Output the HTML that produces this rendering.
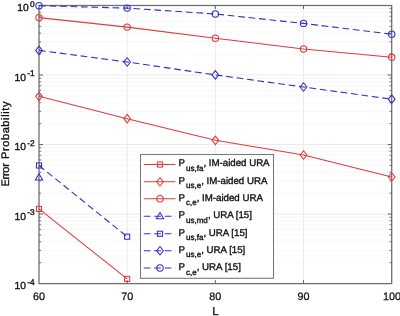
<!DOCTYPE html><html><head><meta charset="utf-8"><style>html,body{margin:0;padding:0;background:#fff}svg{display:block}</style></head><body><svg width="400" height="316" viewBox="0 0 400 316" font-family="Liberation Sans, Arial, sans-serif" text-rendering="geometricPrecision">
<rect width="400" height="316" fill="#fff"/>
<line x1="39.0" x2="391.7" y1="54.10" y2="54.10" stroke="#f5f5f5" stroke-width="0.8"/>
<line x1="39.0" x2="391.7" y1="41.85" y2="41.85" stroke="#f5f5f5" stroke-width="0.8"/>
<line x1="39.0" x2="391.7" y1="33.17" y2="33.17" stroke="#f5f5f5" stroke-width="0.8"/>
<line x1="39.0" x2="391.7" y1="26.43" y2="26.43" stroke="#f5f5f5" stroke-width="0.8"/>
<line x1="39.0" x2="391.7" y1="20.92" y2="20.92" stroke="#f5f5f5" stroke-width="0.8"/>
<line x1="39.0" x2="391.7" y1="16.27" y2="16.27" stroke="#f5f5f5" stroke-width="0.8"/>
<line x1="39.0" x2="391.7" y1="12.24" y2="12.24" stroke="#f5f5f5" stroke-width="0.8"/>
<line x1="39.0" x2="391.7" y1="8.68" y2="8.68" stroke="#f5f5f5" stroke-width="0.8"/>
<line x1="39.0" x2="391.7" y1="123.62" y2="123.62" stroke="#f5f5f5" stroke-width="0.8"/>
<line x1="39.0" x2="391.7" y1="111.38" y2="111.38" stroke="#f5f5f5" stroke-width="0.8"/>
<line x1="39.0" x2="391.7" y1="102.69" y2="102.69" stroke="#f5f5f5" stroke-width="0.8"/>
<line x1="39.0" x2="391.7" y1="95.95" y2="95.95" stroke="#f5f5f5" stroke-width="0.8"/>
<line x1="39.0" x2="391.7" y1="90.45" y2="90.45" stroke="#f5f5f5" stroke-width="0.8"/>
<line x1="39.0" x2="391.7" y1="85.79" y2="85.79" stroke="#f5f5f5" stroke-width="0.8"/>
<line x1="39.0" x2="391.7" y1="81.76" y2="81.76" stroke="#f5f5f5" stroke-width="0.8"/>
<line x1="39.0" x2="391.7" y1="78.21" y2="78.21" stroke="#f5f5f5" stroke-width="0.8"/>
<line x1="39.0" x2="391.7" y1="193.15" y2="193.15" stroke="#f5f5f5" stroke-width="0.8"/>
<line x1="39.0" x2="391.7" y1="180.90" y2="180.90" stroke="#f5f5f5" stroke-width="0.8"/>
<line x1="39.0" x2="391.7" y1="172.22" y2="172.22" stroke="#f5f5f5" stroke-width="0.8"/>
<line x1="39.0" x2="391.7" y1="165.48" y2="165.48" stroke="#f5f5f5" stroke-width="0.8"/>
<line x1="39.0" x2="391.7" y1="159.97" y2="159.97" stroke="#f5f5f5" stroke-width="0.8"/>
<line x1="39.0" x2="391.7" y1="155.32" y2="155.32" stroke="#f5f5f5" stroke-width="0.8"/>
<line x1="39.0" x2="391.7" y1="151.29" y2="151.29" stroke="#f5f5f5" stroke-width="0.8"/>
<line x1="39.0" x2="391.7" y1="147.73" y2="147.73" stroke="#f5f5f5" stroke-width="0.8"/>
<line x1="39.0" x2="391.7" y1="262.67" y2="262.67" stroke="#f5f5f5" stroke-width="0.8"/>
<line x1="39.0" x2="391.7" y1="250.43" y2="250.43" stroke="#f5f5f5" stroke-width="0.8"/>
<line x1="39.0" x2="391.7" y1="241.74" y2="241.74" stroke="#f5f5f5" stroke-width="0.8"/>
<line x1="39.0" x2="391.7" y1="235.00" y2="235.00" stroke="#f5f5f5" stroke-width="0.8"/>
<line x1="39.0" x2="391.7" y1="229.50" y2="229.50" stroke="#f5f5f5" stroke-width="0.8"/>
<line x1="39.0" x2="391.7" y1="224.84" y2="224.84" stroke="#f5f5f5" stroke-width="0.8"/>
<line x1="39.0" x2="391.7" y1="220.81" y2="220.81" stroke="#f5f5f5" stroke-width="0.8"/>
<line x1="39.0" x2="391.7" y1="217.26" y2="217.26" stroke="#f5f5f5" stroke-width="0.8"/>
<line x1="39.0" x2="391.7" y1="75.03" y2="75.03" stroke="#e8e8e8" stroke-width="0.9"/>
<line x1="39.0" x2="391.7" y1="144.55" y2="144.55" stroke="#e8e8e8" stroke-width="0.9"/>
<line x1="39.0" x2="391.7" y1="214.08" y2="214.08" stroke="#e8e8e8" stroke-width="0.9"/>
<line x1="127.17" x2="127.17" y1="5.5" y2="283.6" stroke="#e8e8e8" stroke-width="0.9"/>
<line x1="215.35" x2="215.35" y1="5.5" y2="283.6" stroke="#e8e8e8" stroke-width="0.9"/>
<line x1="303.52" x2="303.52" y1="5.5" y2="283.6" stroke="#e8e8e8" stroke-width="0.9"/>
<rect x="39.0" y="5.5" width="352.70" height="278.10" fill="none" stroke="#707070" stroke-width="1.3"/>
<line x1="39.0" x2="41.2" y1="54.10" y2="54.10" stroke="#555" stroke-width="0.8"/>
<line x1="391.7" x2="389.5" y1="54.10" y2="54.10" stroke="#555" stroke-width="0.8"/>
<line x1="39.0" x2="41.2" y1="41.85" y2="41.85" stroke="#555" stroke-width="0.8"/>
<line x1="391.7" x2="389.5" y1="41.85" y2="41.85" stroke="#555" stroke-width="0.8"/>
<line x1="39.0" x2="41.2" y1="33.17" y2="33.17" stroke="#555" stroke-width="0.8"/>
<line x1="391.7" x2="389.5" y1="33.17" y2="33.17" stroke="#555" stroke-width="0.8"/>
<line x1="39.0" x2="41.2" y1="26.43" y2="26.43" stroke="#555" stroke-width="0.8"/>
<line x1="391.7" x2="389.5" y1="26.43" y2="26.43" stroke="#555" stroke-width="0.8"/>
<line x1="39.0" x2="41.2" y1="20.92" y2="20.92" stroke="#555" stroke-width="0.8"/>
<line x1="391.7" x2="389.5" y1="20.92" y2="20.92" stroke="#555" stroke-width="0.8"/>
<line x1="39.0" x2="41.2" y1="16.27" y2="16.27" stroke="#555" stroke-width="0.8"/>
<line x1="391.7" x2="389.5" y1="16.27" y2="16.27" stroke="#555" stroke-width="0.8"/>
<line x1="39.0" x2="41.2" y1="12.24" y2="12.24" stroke="#555" stroke-width="0.8"/>
<line x1="391.7" x2="389.5" y1="12.24" y2="12.24" stroke="#555" stroke-width="0.8"/>
<line x1="39.0" x2="41.2" y1="8.68" y2="8.68" stroke="#555" stroke-width="0.8"/>
<line x1="391.7" x2="389.5" y1="8.68" y2="8.68" stroke="#555" stroke-width="0.8"/>
<line x1="39.0" x2="41.2" y1="123.62" y2="123.62" stroke="#555" stroke-width="0.8"/>
<line x1="391.7" x2="389.5" y1="123.62" y2="123.62" stroke="#555" stroke-width="0.8"/>
<line x1="39.0" x2="41.2" y1="111.38" y2="111.38" stroke="#555" stroke-width="0.8"/>
<line x1="391.7" x2="389.5" y1="111.38" y2="111.38" stroke="#555" stroke-width="0.8"/>
<line x1="39.0" x2="41.2" y1="102.69" y2="102.69" stroke="#555" stroke-width="0.8"/>
<line x1="391.7" x2="389.5" y1="102.69" y2="102.69" stroke="#555" stroke-width="0.8"/>
<line x1="39.0" x2="41.2" y1="95.95" y2="95.95" stroke="#555" stroke-width="0.8"/>
<line x1="391.7" x2="389.5" y1="95.95" y2="95.95" stroke="#555" stroke-width="0.8"/>
<line x1="39.0" x2="41.2" y1="90.45" y2="90.45" stroke="#555" stroke-width="0.8"/>
<line x1="391.7" x2="389.5" y1="90.45" y2="90.45" stroke="#555" stroke-width="0.8"/>
<line x1="39.0" x2="41.2" y1="85.79" y2="85.79" stroke="#555" stroke-width="0.8"/>
<line x1="391.7" x2="389.5" y1="85.79" y2="85.79" stroke="#555" stroke-width="0.8"/>
<line x1="39.0" x2="41.2" y1="81.76" y2="81.76" stroke="#555" stroke-width="0.8"/>
<line x1="391.7" x2="389.5" y1="81.76" y2="81.76" stroke="#555" stroke-width="0.8"/>
<line x1="39.0" x2="41.2" y1="78.21" y2="78.21" stroke="#555" stroke-width="0.8"/>
<line x1="391.7" x2="389.5" y1="78.21" y2="78.21" stroke="#555" stroke-width="0.8"/>
<line x1="39.0" x2="41.2" y1="193.15" y2="193.15" stroke="#555" stroke-width="0.8"/>
<line x1="391.7" x2="389.5" y1="193.15" y2="193.15" stroke="#555" stroke-width="0.8"/>
<line x1="39.0" x2="41.2" y1="180.90" y2="180.90" stroke="#555" stroke-width="0.8"/>
<line x1="391.7" x2="389.5" y1="180.90" y2="180.90" stroke="#555" stroke-width="0.8"/>
<line x1="39.0" x2="41.2" y1="172.22" y2="172.22" stroke="#555" stroke-width="0.8"/>
<line x1="391.7" x2="389.5" y1="172.22" y2="172.22" stroke="#555" stroke-width="0.8"/>
<line x1="39.0" x2="41.2" y1="165.48" y2="165.48" stroke="#555" stroke-width="0.8"/>
<line x1="391.7" x2="389.5" y1="165.48" y2="165.48" stroke="#555" stroke-width="0.8"/>
<line x1="39.0" x2="41.2" y1="159.97" y2="159.97" stroke="#555" stroke-width="0.8"/>
<line x1="391.7" x2="389.5" y1="159.97" y2="159.97" stroke="#555" stroke-width="0.8"/>
<line x1="39.0" x2="41.2" y1="155.32" y2="155.32" stroke="#555" stroke-width="0.8"/>
<line x1="391.7" x2="389.5" y1="155.32" y2="155.32" stroke="#555" stroke-width="0.8"/>
<line x1="39.0" x2="41.2" y1="151.29" y2="151.29" stroke="#555" stroke-width="0.8"/>
<line x1="391.7" x2="389.5" y1="151.29" y2="151.29" stroke="#555" stroke-width="0.8"/>
<line x1="39.0" x2="41.2" y1="147.73" y2="147.73" stroke="#555" stroke-width="0.8"/>
<line x1="391.7" x2="389.5" y1="147.73" y2="147.73" stroke="#555" stroke-width="0.8"/>
<line x1="39.0" x2="41.2" y1="262.67" y2="262.67" stroke="#555" stroke-width="0.8"/>
<line x1="391.7" x2="389.5" y1="262.67" y2="262.67" stroke="#555" stroke-width="0.8"/>
<line x1="39.0" x2="41.2" y1="250.43" y2="250.43" stroke="#555" stroke-width="0.8"/>
<line x1="391.7" x2="389.5" y1="250.43" y2="250.43" stroke="#555" stroke-width="0.8"/>
<line x1="39.0" x2="41.2" y1="241.74" y2="241.74" stroke="#555" stroke-width="0.8"/>
<line x1="391.7" x2="389.5" y1="241.74" y2="241.74" stroke="#555" stroke-width="0.8"/>
<line x1="39.0" x2="41.2" y1="235.00" y2="235.00" stroke="#555" stroke-width="0.8"/>
<line x1="391.7" x2="389.5" y1="235.00" y2="235.00" stroke="#555" stroke-width="0.8"/>
<line x1="39.0" x2="41.2" y1="229.50" y2="229.50" stroke="#555" stroke-width="0.8"/>
<line x1="391.7" x2="389.5" y1="229.50" y2="229.50" stroke="#555" stroke-width="0.8"/>
<line x1="39.0" x2="41.2" y1="224.84" y2="224.84" stroke="#555" stroke-width="0.8"/>
<line x1="391.7" x2="389.5" y1="224.84" y2="224.84" stroke="#555" stroke-width="0.8"/>
<line x1="39.0" x2="41.2" y1="220.81" y2="220.81" stroke="#555" stroke-width="0.8"/>
<line x1="391.7" x2="389.5" y1="220.81" y2="220.81" stroke="#555" stroke-width="0.8"/>
<line x1="39.0" x2="41.2" y1="217.26" y2="217.26" stroke="#555" stroke-width="0.8"/>
<line x1="391.7" x2="389.5" y1="217.26" y2="217.26" stroke="#555" stroke-width="0.8"/>
<line x1="39.0" x2="43.0" y1="75.03" y2="75.03" stroke="#555" stroke-width="0.9"/>
<line x1="391.7" x2="387.7" y1="75.03" y2="75.03" stroke="#555" stroke-width="0.9"/>
<line x1="39.0" x2="43.0" y1="144.55" y2="144.55" stroke="#555" stroke-width="0.9"/>
<line x1="391.7" x2="387.7" y1="144.55" y2="144.55" stroke="#555" stroke-width="0.9"/>
<line x1="39.0" x2="43.0" y1="214.08" y2="214.08" stroke="#555" stroke-width="0.9"/>
<line x1="391.7" x2="387.7" y1="214.08" y2="214.08" stroke="#555" stroke-width="0.9"/>
<line x1="127.17" x2="127.17" y1="283.6" y2="280.1" stroke="#555" stroke-width="0.9"/>
<line x1="127.17" x2="127.17" y1="5.5" y2="9.0" stroke="#555" stroke-width="0.9"/>
<line x1="215.35" x2="215.35" y1="283.6" y2="280.1" stroke="#555" stroke-width="0.9"/>
<line x1="215.35" x2="215.35" y1="5.5" y2="9.0" stroke="#555" stroke-width="0.9"/>
<line x1="303.52" x2="303.52" y1="283.6" y2="280.1" stroke="#555" stroke-width="0.9"/>
<line x1="303.52" x2="303.52" y1="5.5" y2="9.0" stroke="#555" stroke-width="0.9"/>
<rect x="140.5" y="154.5" width="133.0" height="123.80000000000001" fill="#fff" stroke="#7a7a7a" stroke-width="1.1"/>
<line x1="143.75" x2="175.5" y1="164.50" y2="164.50" stroke="#e03a3c" stroke-width="1.1"/>
<rect x="157.45" y="161.95" width="5.10" height="5.10" fill="none" stroke="#e03a3c" stroke-width="1.05"/>
<text y="166.40" font-size="9.7" fill="#111" stroke="#111" stroke-width="0.35"><tspan x="178.5">P</tspan><tspan x="186.0" font-size="8.0" dy="4.8">us,fa</tspan><tspan x="203.45" dy="-4.8">,</tspan><tspan x="208.75">IM-aided URA</tspan></text>
<line x1="143.75" x2="175.5" y1="181.75" y2="181.75" stroke="#e03a3c" stroke-width="1.1"/>
<path d="M160.00 177.50L163.37 181.75L160.00 186.00L156.63 181.75Z" fill="none" stroke="#e03a3c" stroke-width="1.05"/>
<text y="183.65" font-size="9.7" fill="#111" stroke="#111" stroke-width="0.35"><tspan x="178.5">P</tspan><tspan x="186.0" font-size="8.0" dy="4.8">us,e</tspan><tspan x="201.22" dy="-4.8">,</tspan><tspan x="206.52">IM-aided URA</tspan></text>
<line x1="143.75" x2="175.5" y1="198.75" y2="198.75" stroke="#e03a3c" stroke-width="1.1"/>
<circle cx="160.00" cy="198.75" r="3.20" fill="none" stroke="#e03a3c" stroke-width="1.05"/>
<text y="200.65" font-size="9.7" fill="#111" stroke="#111" stroke-width="0.35"><tspan x="178.5">P</tspan><tspan x="186.0" font-size="8.0" dy="4.8">c,e</tspan><tspan x="196.77" dy="-4.8">,</tspan><tspan x="202.07">IM-aided URA</tspan></text>
<line x1="143.75" x2="175.5" y1="216.25" y2="216.25" stroke="#3030c4" stroke-width="1.1" stroke-dasharray="6.7 3.8"/>
<path d="M160.00 212.45L163.70 218.80L156.30 218.80Z" fill="none" stroke="#3030c4" stroke-width="1.05"/>
<text y="218.15" font-size="9.7" fill="#111" stroke="#111" stroke-width="0.35"><tspan x="178.5">P</tspan><tspan x="186.0" font-size="8.0" dy="4.8">us,md</tspan><tspan x="207.88" dy="-4.8">,</tspan><tspan x="213.18">URA [15]</tspan></text>
<line x1="143.75" x2="175.5" y1="233.75" y2="233.75" stroke="#3030c4" stroke-width="1.1" stroke-dasharray="6.7 3.8"/>
<rect x="157.45" y="231.20" width="5.10" height="5.10" fill="none" stroke="#3030c4" stroke-width="1.05"/>
<text y="235.65" font-size="9.7" fill="#111" stroke="#111" stroke-width="0.35"><tspan x="178.5">P</tspan><tspan x="186.0" font-size="8.0" dy="4.8">us,fa</tspan><tspan x="203.45" dy="-4.8">,</tspan><tspan x="208.75">URA [15]</tspan></text>
<line x1="143.75" x2="175.5" y1="250.75" y2="250.75" stroke="#3030c4" stroke-width="1.1" stroke-dasharray="6.7 3.8"/>
<path d="M160.00 246.50L163.37 250.75L160.00 255.00L156.63 250.75Z" fill="none" stroke="#3030c4" stroke-width="1.05"/>
<text y="252.65" font-size="9.7" fill="#111" stroke="#111" stroke-width="0.35"><tspan x="178.5">P</tspan><tspan x="186.0" font-size="8.0" dy="4.8">us,e</tspan><tspan x="201.22" dy="-4.8">,</tspan><tspan x="206.52">URA [15]</tspan></text>
<line x1="143.75" x2="175.5" y1="268.00" y2="268.00" stroke="#3030c4" stroke-width="1.1" stroke-dasharray="6.7 3.8"/>
<circle cx="160.00" cy="268.00" r="3.20" fill="none" stroke="#3030c4" stroke-width="1.05"/>
<text y="269.90" font-size="9.7" fill="#111" stroke="#111" stroke-width="0.35"><tspan x="178.5">P</tspan><tspan x="186.0" font-size="8.0" dy="4.8">c,e</tspan><tspan x="196.77" dy="-4.8">,</tspan><tspan x="202.07">URA [15]</tspan></text>
<polyline points="39.00,208.90 127.17,278.90" fill="none" stroke="#e03a3c" stroke-width="1.1"/>
<rect x="36.45" y="206.35" width="5.10" height="5.10" fill="none" stroke="#e03a3c" stroke-width="1.05"/>
<rect x="124.62" y="276.35" width="5.10" height="5.10" fill="none" stroke="#e03a3c" stroke-width="1.05"/>
<polyline points="39.00,96.30 127.17,118.70 215.35,140.30 303.52,155.00 391.70,177.00" fill="none" stroke="#e03a3c" stroke-width="1.1"/>
<path d="M39.00 92.05L42.37 96.30L39.00 100.55L35.63 96.30Z" fill="none" stroke="#e03a3c" stroke-width="1.05"/>
<path d="M127.17 114.45L130.54 118.70L127.17 122.95L123.81 118.70Z" fill="none" stroke="#e03a3c" stroke-width="1.05"/>
<path d="M215.35 136.05L218.72 140.30L215.35 144.55L211.98 140.30Z" fill="none" stroke="#e03a3c" stroke-width="1.05"/>
<path d="M303.52 150.75L306.89 155.00L303.52 159.25L300.16 155.00Z" fill="none" stroke="#e03a3c" stroke-width="1.05"/>
<path d="M391.70 172.75L395.07 177.00L391.70 181.25L388.33 177.00Z" fill="none" stroke="#e03a3c" stroke-width="1.05"/>
<polyline points="39.00,17.60 127.17,27.10 215.35,38.20 303.52,49.00 391.70,57.30" fill="none" stroke="#e03a3c" stroke-width="1.1"/>
<circle cx="39.00" cy="17.60" r="3.20" fill="none" stroke="#e03a3c" stroke-width="1.05"/>
<circle cx="127.17" cy="27.10" r="3.20" fill="none" stroke="#e03a3c" stroke-width="1.05"/>
<circle cx="215.35" cy="38.20" r="3.20" fill="none" stroke="#e03a3c" stroke-width="1.05"/>
<circle cx="303.52" cy="49.00" r="3.20" fill="none" stroke="#e03a3c" stroke-width="1.05"/>
<circle cx="391.70" cy="57.30" r="3.20" fill="none" stroke="#e03a3c" stroke-width="1.05"/>
<path d="M39.00 173.70L42.70 180.05L35.30 180.05Z" fill="none" stroke="#3030c4" stroke-width="1.05"/>
<polyline points="39.00,165.50 127.17,236.70" fill="none" stroke="#3030c4" stroke-width="1.1" stroke-dasharray="6.7 3.8"/>
<rect x="36.45" y="162.95" width="5.10" height="5.10" fill="none" stroke="#3030c4" stroke-width="1.05"/>
<rect x="124.62" y="234.15" width="5.10" height="5.10" fill="none" stroke="#3030c4" stroke-width="1.05"/>
<polyline points="39.00,50.40 127.17,62.00 215.35,74.90 303.52,87.00 391.70,99.20" fill="none" stroke="#3030c4" stroke-width="1.1" stroke-dasharray="6.7 3.8"/>
<path d="M39.00 46.15L42.37 50.40L39.00 54.65L35.63 50.40Z" fill="none" stroke="#3030c4" stroke-width="1.05"/>
<path d="M127.17 57.75L130.54 62.00L127.17 66.25L123.81 62.00Z" fill="none" stroke="#3030c4" stroke-width="1.05"/>
<path d="M215.35 70.65L218.72 74.90L215.35 79.15L211.98 74.90Z" fill="none" stroke="#3030c4" stroke-width="1.05"/>
<path d="M303.52 82.75L306.89 87.00L303.52 91.25L300.16 87.00Z" fill="none" stroke="#3030c4" stroke-width="1.05"/>
<path d="M391.70 94.95L395.07 99.20L391.70 103.45L388.33 99.20Z" fill="none" stroke="#3030c4" stroke-width="1.05"/>
<polyline points="39.00,5.70 127.17,8.10 215.35,14.00 303.52,23.40 391.70,34.20" fill="none" stroke="#3030c4" stroke-width="1.1" stroke-dasharray="6.7 3.8"/>
<circle cx="39.00" cy="5.70" r="3.20" fill="none" stroke="#3030c4" stroke-width="1.05"/>
<circle cx="127.17" cy="8.10" r="3.20" fill="none" stroke="#3030c4" stroke-width="1.05"/>
<circle cx="215.35" cy="14.00" r="3.20" fill="none" stroke="#3030c4" stroke-width="1.05"/>
<circle cx="303.52" cy="23.40" r="3.20" fill="none" stroke="#3030c4" stroke-width="1.05"/>
<circle cx="391.70" cy="34.20" r="3.20" fill="none" stroke="#3030c4" stroke-width="1.05"/>
<text x="39.00" y="300.0" font-size="10.8" text-anchor="middle" fill="#111" stroke="#111" stroke-width="0.25">60</text>
<text x="127.17" y="300.0" font-size="10.8" text-anchor="middle" fill="#111" stroke="#111" stroke-width="0.25">70</text>
<text x="215.35" y="300.0" font-size="10.8" text-anchor="middle" fill="#111" stroke="#111" stroke-width="0.25">80</text>
<text x="303.52" y="300.0" font-size="10.8" text-anchor="middle" fill="#111" stroke="#111" stroke-width="0.25">90</text>
<text x="392.10" y="300.0" font-size="10.8" text-anchor="middle" fill="#111" stroke="#111" stroke-width="0.25">100</text>
<text x="34.6" y="11.10" font-size="10.3" text-anchor="end" fill="#111" stroke="#111" stroke-width="0.35">10<tspan font-size="8.4" dx="1.1" dy="-4.3">0</tspan></text>
<text x="34.6" y="80.62" font-size="10.3" text-anchor="end" fill="#111" stroke="#111" stroke-width="0.35">10<tspan font-size="8.4" dx="1.1" dy="-4.3">-1</tspan></text>
<text x="34.6" y="150.15" font-size="10.3" text-anchor="end" fill="#111" stroke="#111" stroke-width="0.35">10<tspan font-size="8.4" dx="1.1" dy="-4.3">-2</tspan></text>
<text x="34.6" y="219.68" font-size="10.3" text-anchor="end" fill="#111" stroke="#111" stroke-width="0.35">10<tspan font-size="8.4" dx="1.1" dy="-4.3">-3</tspan></text>
<text x="34.6" y="289.20" font-size="10.3" text-anchor="end" fill="#111" stroke="#111" stroke-width="0.35">10<tspan font-size="8.4" dx="1.1" dy="-4.3">-4</tspan></text>
<text x="215.4" y="315.3" font-size="11.5" text-anchor="middle" fill="#111" stroke="#111" stroke-width="0.3">L</text>
<text transform="translate(9.3,186.6) rotate(-90)" font-size="11" fill="#111" stroke="#111" stroke-width="0.3"><tspan x="0" textLength="23.5" lengthAdjust="spacing">Error</tspan> <tspan x="27.6" textLength="57.4" lengthAdjust="spacing">Probability</tspan></text>
</svg></body></html>
